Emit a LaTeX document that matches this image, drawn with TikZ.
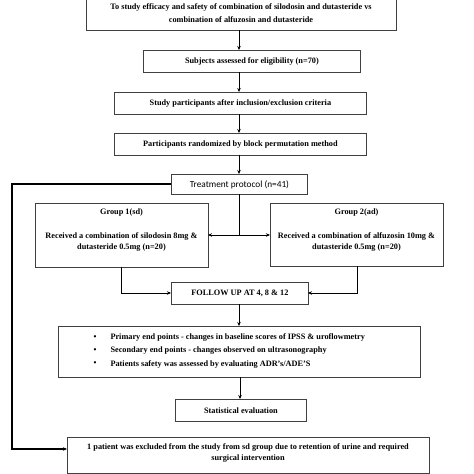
\documentclass[tikz,border=0pt]{standalone}
\usepackage{fontspec}
\setmainfont{Liberation Serif}
\newfontfamily\calib{Carlito}
\usetikzlibrary{arrows.meta}
\begin{document}
\begin{tikzpicture}[x=1bp,y=-1bp,
  box/.style={draw=black!75,line width=0.8bp,inner sep=0pt,anchor=north west},
  txt/.style={font=\bfseries\fontsize{8.3}{12}\selectfont,align=center},
  conn/.style={draw=black,line width=0.9bp,-{Stealth[length=4bp,width=3.5bp]}},
  plain/.style={draw=black,line width=0.9bp}]
\useasboundingbox (0,0) rectangle (474,474);
\fill[white] (0,0) rectangle (474,474);
% boxes
\node[box,minimum width=310bp,minimum height=34bp] (b1) at (86,-3.5) {};
\node[txt] at (241,7) {To study efficacy and safety of combination of silodosin and dutasteride vs};
\node[txt] at (241,20) {combination of alfuzosin and dutasteride};
\node[box,minimum width=217bp,minimum height=22bp] (b2) at (143,50) {};
\node[txt] at (b2.center) {Subjects assessed for eligibility (n=70)};
\node[box,minimum width=252bp,minimum height=22bp] (b3) at (114,92) {};
\node[txt] at (b3.center) {Study participants after inclusion/exclusion criteria};
\node[box,minimum width=252bp,minimum height=22bp] (b4) at (114,133) {};
\node[txt] at (b4.center) {Participants randomized by block permutation method};
\node[box,minimum width=136bp,minimum height=20bp] (b5) at (171,174) {};
\node[font=\calib\fontsize{9.3}{11}\selectfont] at (b5.center) {Treatment protocol (n=41)};
\node[box,minimum width=173bp,minimum height=64bp] (g1) at (35,203) {};
\node[txt] at (121.5,213) {Group 1(sd)};
\node[txt] at (121.5,242) {Received a combination of silodosin 8mg \&\\dutasteride 0.5mg (n=20)};
\node[box,minimum width=173bp,minimum height=63bp] (g2) at (270,203) {};
\node[txt] at (356.5,213) {Group 2(ad)};
\node[txt] at (356.5,242) {Received a combination of alfuzosin 10mg \&\\dutasteride 0.5mg (n=20)};
\node[box,minimum width=137bp,minimum height=22bp] (f) at (171,282) {};
\node[txt] at (f.center) {FOLLOW UP AT 4, 8 \& 12};
\node[box,minimum width=362bp,minimum height=51bp] (e) at (58,326) {};
\node[txt] at (95,337.5) {•};
\node[txt] at (95,350.5) {•};
\node[txt] at (95,364) {•};
\node[txt,anchor=west] at (107,337.5) {Primary end points - changes in baseline scores of IPSS \& uroflowmetry};
\node[txt,anchor=west] at (107,350.5) {Secondary end points - changes observed on ultrasonography};
\node[txt,anchor=west] at (107,364) {Patients safety was assessed by evaluating ADR's/ADE'S};
\node[box,minimum width=131bp,minimum height=22bp] (s) at (175,399) {};
\node[txt] at (s.center) {Statistical evaluation};
\node[box,minimum width=362bp,minimum height=36bp] (x) at (67,437) {};
\node[txt] at (248,447) {1 patient was excluded from the study from sd group due to retention of urine and required};
\node[txt] at (248,459) {surgical intervention};
% connectors
\draw[conn] (239,30.5) -- (b2.north -| 239,0);
\draw[conn] (239,72) -- (239,92);
\draw[conn] (239,114) -- (239,133);
\draw[conn] (239,155) -- (239,174);
\coordinate (j) at (239,235);
\draw[plain] (239,194) -- (j);
\draw[conn] (j) -- (208,235);
\draw[conn] (j) -- (270,235);
\draw[conn] (121,267) -- (121,293) -- (171,293);
\draw[conn] (357,266) -- (357,293) -- (308,293);
\draw[conn] (239,304) -- (239,326);
\draw[conn] (240,377) -- (240,399);
\draw[conn,line width=1.3bp] (171,184) -- (12,184) -- (12,449) -- (67,449);
\end{tikzpicture}
\end{document}
